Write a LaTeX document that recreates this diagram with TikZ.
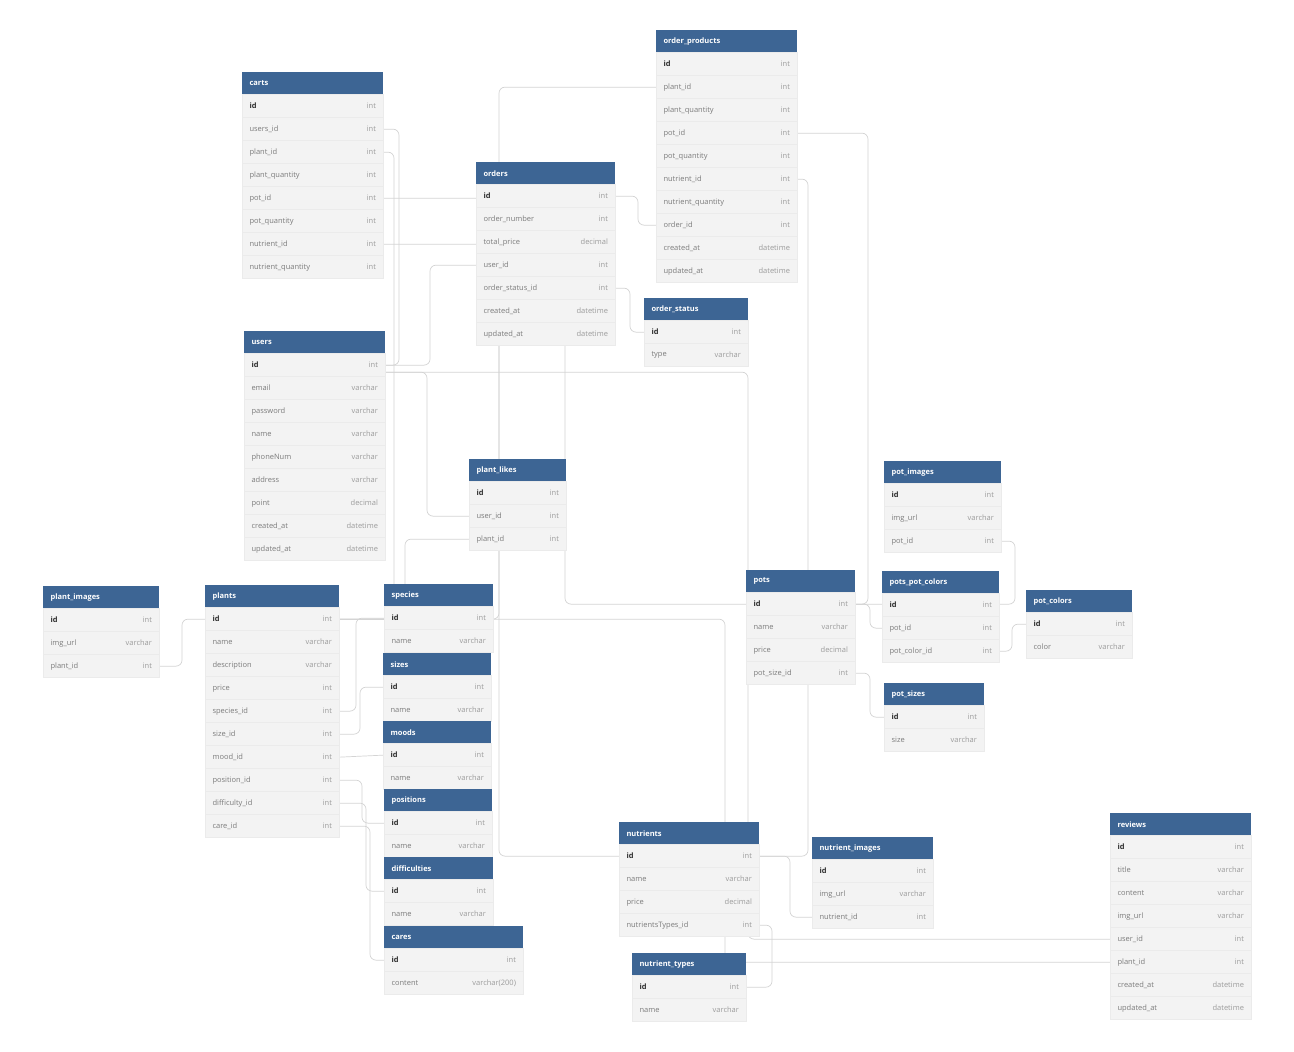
\documentclass[tikz,border=0pt]{standalone}
\usepackage{fontspec}
\setmainfont{Open Sans}
\usetikzlibrary{calc, positioning, backgrounds}
\definecolor{dbblue}{HTML}{3D6594}
\definecolor{rowfill}{HTML}{F3F3F3}
\definecolor{rowline}{HTML}{EBEBEB}
\definecolor{fieldgray}{HTML}{7B7B7B}
\definecolor{typegray}{HTML}{9B9B9B}
\definecolor{idgray}{HTML}{303030}
\definecolor{linkgray}{HTML}{D4D4D4}
\newcommand{\idf}{\textcolor{idgray}{\bfseries id}}
% table: node name, top-left, title, width, rows
\newcommand{\dbtable}[5]{%
  \node[dbhead, minimum width=#4, label={[headtxt]west:#3}] (#1) at (#2) {};
  \foreach \fld/\typ [count=\i] in {#5} {
    \node[dbrow, minimum width=#4, label={[fieldtxt]west:\fld}, label={[typetxt]east:\typ}]
      (#1-\i) at ($(#1.south west)+(0,{23*(\i-1)})$) {};
  }
}

\begin{document}
\begin{tikzpicture}[x=1pt, y=-1pt,
    dbhead/.style={rectangle, fill=dbblue, minimum height=22pt, inner sep=0pt, anchor=north west},
    headtxt/.style={anchor=west, text=white, font=\fontsize{7.5}{9}\selectfont\bfseries, xshift=4pt},
    dbrow/.style={rectangle, fill=rowfill, draw=rowline, line width=0.5pt, minimum height=23pt, inner sep=0pt, anchor=north west},
    fieldtxt/.style={anchor=west, text=fieldgray, font=\fontsize{7.5}{9}\selectfont, xshift=4pt},
    typetxt/.style={anchor=east, text=typegray, font=\fontsize{7.5}{9}\selectfont, xshift=-4pt},
    rel/.style={draw=linkgray, line width=0.7pt, rounded corners=6pt}]
  \useasboundingbox (0,0) rectangle (1294,1052);

  \dbtable{carts}{242,72}{carts}{141}{\idf/int, users\_id/int, plant\_id/int, plant\_quantity/int, pot\_id/int, pot\_quantity/int, nutrient\_id/int, nutrient\_quantity/int}
  \dbtable{orders}{476,162}{orders}{139}{\idf/int, order\_number/int, total\_price/decimal, user\_id/int, order\_status\_id/int, created\_at/datetime, updated\_at/datetime}
  \dbtable{order_products}{656,30}{order\_products}{141}{\idf/int, plant\_id/int, plant\_quantity/int, pot\_id/int, pot\_quantity/int, nutrient\_id/int, nutrient\_quantity/int, order\_id/int, created\_at/datetime, updated\_at/datetime}
  \dbtable{order_status}{644,298}{order\_status}{104}{\idf/int, type/varchar}
  \dbtable{users}{244,331}{users}{141}{\idf/int, email/varchar, password/varchar, name/varchar, phoneNum/varchar, address/varchar, point/decimal, created\_at/datetime, updated\_at/datetime}
  \dbtable{plant_likes}{469,459}{plant\_likes}{97}{\idf/int, user\_id/int, plant\_id/int}
  \dbtable{plant_images}{43,586}{plant\_images}{116}{\idf/int, img\_url/varchar, plant\_id/int}
  \dbtable{plants}{205,585}{plants}{134}{\idf/int, name/varchar, description/varchar, price/int, species\_id/int, size\_id/int, mood\_id/int, position\_id/int, difficulty\_id/int, care\_id/int}
  \dbtable{species}{384,584}{species}{109}{\idf/int, name/varchar}
  \dbtable{sizes}{383,653}{sizes}{108}{\idf/int, name/varchar}
  \dbtable{moods}{383,721}{moods}{108}{\idf/int, name/varchar}
  \dbtable{positions}{384,789}{positions}{108}{\idf/int, name/varchar}
  \dbtable{difficulties}{384,857}{difficulties}{109}{\idf/int, name/varchar}
  \dbtable{cares}{384,926}{cares}{139}{\idf/int, content/varchar(200)}
  \dbtable{pots}{746,570}{pots}{109}{\idf/int, name/varchar, price/decimal, pot\_size\_id/int}
  \dbtable{pot_images}{884,461}{pot\_images}{117}{\idf/int, img\_url/varchar, pot\_id/int}
  \dbtable{pots_pot_colors}{882,571}{pots\_pot\_colors}{117}{\idf/int, pot\_id/int, pot\_color\_id/int}
  \dbtable{pot_colors}{1026,590}{pot\_colors}{106}{\idf/int, color/varchar}
  \dbtable{pot_sizes}{884,683}{pot\_sizes}{100}{\idf/int, size/varchar}
  \dbtable{nutrients}{619,822}{nutrients}{140}{\idf/int, name/varchar, price/decimal, nutrientsTypes\_id/int}
  \dbtable{nutrient_images}{812,837}{nutrient\_images}{121}{\idf/int, img\_url/varchar, nutrient\_id/int}
  \dbtable{nutrient_types}{632,953}{nutrient\_types}{114}{\idf/int, name/varchar}
  \dbtable{reviews}{1110,813}{reviews}{141}{\idf/int, title/varchar, content/varchar, img\_url/varchar, user\_id/int, plant\_id/int, created\_at/datetime, updated\_at/datetime}

  % lanes for the links
  \coordinate (lnA) at (399,0);
  \coordinate (lnB) at (394,0);
  \coordinate (lnC) at (565,0);
  \coordinate (lnD) at (499,0);
  \coordinate (lnF) at (868,0);
  \coordinate (lnG) at (808,0);
  \coordinate (lnH) at (638,0);
  \coordinate (lnI) at (630,0);
  \coordinate (lnJ) at (430,0);
  \coordinate (lnK) at (427,0);
  \coordinate (lnL) at (748,0);
  \coordinate (lnM) at (405,0);
  \coordinate (lnN) at (182,0);
  \coordinate (lnO) at (356,0);
  \coordinate (lnP) at (360,0);
  \coordinate (lnR) at (362,0);
  \coordinate (lnS) at (366,0);
  \coordinate (lnT) at (370,0);
  \coordinate (lnU) at (725,0);
  \coordinate (lnV) at (870,0);
  \coordinate (lnW) at (1015,0);
  \coordinate (lnX) at (1012,0);
  \coordinate (lnY) at (772,0);
  \coordinate (lnZ) at (790,0);
  \coordinate (usersOut) at ([yshift=-7pt]users-1.east);

  \begin{scope}[on background layer]
    \fill[white] (0,0) rectangle (1294,1052);
    \draw[rel] (carts-2.east) -- (carts-2.east -| lnA) -- (lnA |- users-1.east) -- (users-1.east);
    \draw[rel] (carts-3.east) -- (carts-3.east -| lnB) -- (lnB |- plants-1.east) -- (plants-1.east);
    \draw[rel] (carts-5.east) -- (carts-5.east -| lnC) -- (lnC |- pots-1.west) -- (pots-1.west);
    \draw[rel] (carts-7.east) -- (carts-7.east -| lnD) -- (lnD |- nutrients-1.west) -- (nutrients-1.west);
    \draw[rel] (order_products-2.west) -- (order_products-2.west -| lnD) -- (lnD |- plants-1.east) -- (plants-1.east);
    \draw[rel] (order_products-4.east) -- (order_products-4.east -| lnF) -- (lnF |- pots-1.east) -- (pots-1.east);
    \draw[rel] (order_products-6.east) -- (order_products-6.east -| lnG) -- (lnG |- nutrients-1.east) -- (nutrients-1.east);
    \draw[rel] (orders-1.east) -- (orders-1.east -| lnH) -- (lnH |- order_products-8.west) -- (order_products-8.west);
    \draw[rel] (orders-5.east) -- (orders-5.east -| lnI) -- (lnI |- order_status-1.west) -- (order_status-1.west);
    \draw[rel] (orders-4.west) -- (orders-4.west -| lnJ) -- (lnJ |- users-1.east) -- (users-1.east);
    \draw[rel] (plant_likes-2.west) -- (plant_likes-2.west -| lnK) -- (lnK |- usersOut) -- (usersOut);
    \draw[rel] (usersOut) -- (usersOut -| lnL) -- (lnL |- reviews-5.west) -- (reviews-5.west);
    \draw[rel] (plant_likes-3.west) -- (plant_likes-3.west -| lnM) -- (lnM |- plants-1.east) -- (plants-1.east);
    \draw[rel] (plant_images-3.east) -- (plant_images-3.east -| lnN) -- (lnN |- plants-1.west) -- (plants-1.west);
    \draw[rel] (plants-5.east) -- (plants-5.east -| lnO) -- (lnO |- species-1.west) -- (species-1.west);
    \draw[rel] (plants-6.east) -- (plants-6.east -| lnP) -- (lnP |- sizes-1.west) -- (sizes-1.west);
    \draw[rel] (plants-7.east) -- (moods-1.west);
    \draw[rel] (plants-8.east) -- (plants-8.east -| lnR) -- (lnR |- positions-1.west) -- (positions-1.west);
    \draw[rel] (plants-9.east) -- (plants-9.east -| lnS) -- (lnS |- difficulties-1.west) -- (difficulties-1.west);
    \draw[rel] (plants-10.east) -- (plants-10.east -| lnT) -- (lnT |- cares-1.west) -- (cares-1.west);
    \draw[rel] (plants-1.east) -- (plants-1.east -| lnU) -- (lnU |- reviews-6.west) -- (reviews-6.west);
    \draw[rel] (pots-4.east) -- (pots-4.east -| lnV) -- (lnV |- pot_sizes-1.west) -- (pot_sizes-1.west);
    \draw[rel] (pots_pot_colors-2.west) -- (pots_pot_colors-2.west -| lnV) -- (lnV |- pots-1.east) -- (pots-1.east);
    \draw[rel] (pot_images-3.east) -- (pot_images-3.east -| lnW) -- (lnW |- pots-1.east) -- (pots-1.east);
    \draw[rel] (pots_pot_colors-3.east) -- (pots_pot_colors-3.east -| lnX) -- (lnX |- pot_colors-1.west) -- (pot_colors-1.west);
    \draw[rel] (nutrients-4.east) -- (nutrients-4.east -| lnY) -- (lnY |- nutrient_types-1.east) -- (nutrient_types-1.east);
    \draw[rel] (nutrient_images-3.west) -- (nutrient_images-3.west -| lnZ) -- (lnZ |- nutrients-1.east) -- (nutrients-1.east);
  \end{scope}
\end{tikzpicture}
\end{document}
